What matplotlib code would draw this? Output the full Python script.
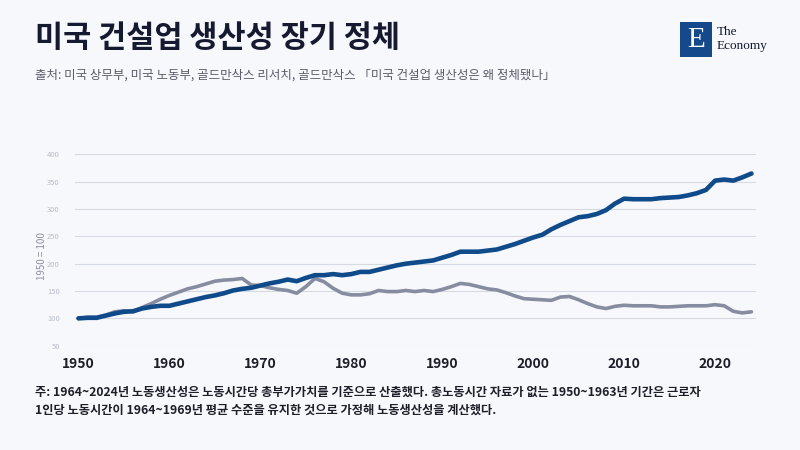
import matplotlib
matplotlib.use('Agg')
import matplotlib.pyplot as plt
from matplotlib.patches import Rectangle

plt.rcParams['font.family'] = ['Noto Sans CJK KR', 'DejaVu Sans']

# data (1950 = 100)
years = list(range(1950, 2025))
blue_vals = [100, 101, 101, 105, 109, 112, 113, 118, 121, 123,
             123, 127, 131, 135, 139, 142, 146, 151, 154, 156,
             160, 164, 167, 171, 168, 174, 179, 179, 181, 179,
             181, 185, 185, 189, 193, 197, 200, 202, 204, 206,
             211, 216, 222, 222, 222, 224, 226, 231, 236, 242,
             248, 253, 263, 271, 278, 285, 287, 291, 298, 310,
             319, 318, 318, 318, 320, 321, 322, 325, 329, 335,
             352, 354, 352, 358, 365]
grey_vals = [100, 102, 102, 106, 112, 114, 112, 120, 127, 135,
             142, 148, 154, 158, 163, 168, 170, 171, 173, 161,
             160, 156, 153, 151, 146, 158, 173, 167, 155, 146,
             143, 143, 145, 151, 149, 149, 151, 149, 151, 149,
             153, 158, 164, 162, 158, 154, 152, 147, 141, 136,
             135, 134, 133, 139, 140, 134, 127, 121, 118, 122,
             124, 123, 123, 123, 121, 121, 122, 123, 123, 123,
             125, 123, 113, 110, 112]
x_ticks = [1950, 1960, 1970, 1980, 1990, 2000, 2010, 2020]
y_ticks = [50, 100, 150, 200, 250, 300, 350, 400]

bg = '#f7f8fc'
fig = plt.figure(figsize=(8, 4.5), dpi=100)
fig.patch.set_facecolor(bg)

ax = fig.add_axes([0.094, 0.2318, 0.851, 0.4251])
ax.set_facecolor(bg)
ax.plot(years, grey_vals, color='#878da0', lw=2.6, solid_capstyle='round', zorder=3)
ax.plot(years, blue_vals, color='#0f4a8a', lw=3.3, solid_capstyle='round', zorder=4)

ax.set_xlim(1949.64, 2024.5)
ax.set_ylim(50, 400)
ax.set_yticks(y_ticks)
ax.set_xticks(x_ticks)
ax.grid(axis='y', color='#d5d9e2', lw=0.8)
ax.set_axisbelow(True)
for s in ax.spines.values():
    s.set_visible(False)
ax.tick_params(axis='y', length=0, labelsize=5.5, labelcolor='#b8bdca', pad=11)
ax.tick_params(axis='x', length=0, labelsize=10, labelcolor='#1e1e28', pad=8)
for lb in ax.get_xticklabels():
    lb.set_fontweight('bold')
ax.set_ylabel('1950 = 100', fontsize=7, color='#8a8f9c', labelpad=2)
ax.yaxis.set_label_coords(-0.041, 0.47)

# header
fig.text(0.044, 0.915, '미국 건설업 생산성 장기 정체', fontsize=22, fontweight='bold',
         color='#151a30', va='center')
fig.text(0.044, 0.833, '출처: 미국 상무부, 미국 노동부, 골드만삭스 리서치, 골드만삭스 「미국 건설업 생산성은 왜 정체됐나」',
         fontsize=9, color='#5a5e6a', va='center')

# logo
fig.add_artist(Rectangle((680 / 800, 1 - 57 / 450), 32 / 800, 35 / 450,
                         transform=fig.transFigure, facecolor='#144a8c', edgecolor='none'))
fig.text(696 / 800, 1 - 40 / 450, 'E', family='Liberation Serif', fontsize=21,
         color='white', ha='center', va='center')
fig.text(717 / 800, 1 - 32 / 450, 'The', family='Liberation Serif', fontsize=9.5,
         color='#151a30', va='center')
fig.text(717 / 800, 1 - 46 / 450, 'Economy', family='Liberation Serif', fontsize=9.5,
         color='#151a30', va='center')

# footnote
fig.text(0.044, 1 - 392 / 450,
         '주: 1964~2024년 노동생산성은 노동시간당 총부가가치를 기준으로 산출했다. 총노동시간 자료가 없는 1950~1963년 기간은 근로자',
         fontsize=8.8, color='#1e1e28', va='center', fontweight='bold')
fig.text(0.044, 1 - 410 / 450,
         '1인당 노동시간이 1964~1969년 평균 수준을 유지한 것으로 가정해 노동생산성을 계산했다.',
         fontsize=8.8, color='#1e1e28', va='center', fontweight='bold')

fig.savefig('out.png', dpi=100, facecolor=bg)
